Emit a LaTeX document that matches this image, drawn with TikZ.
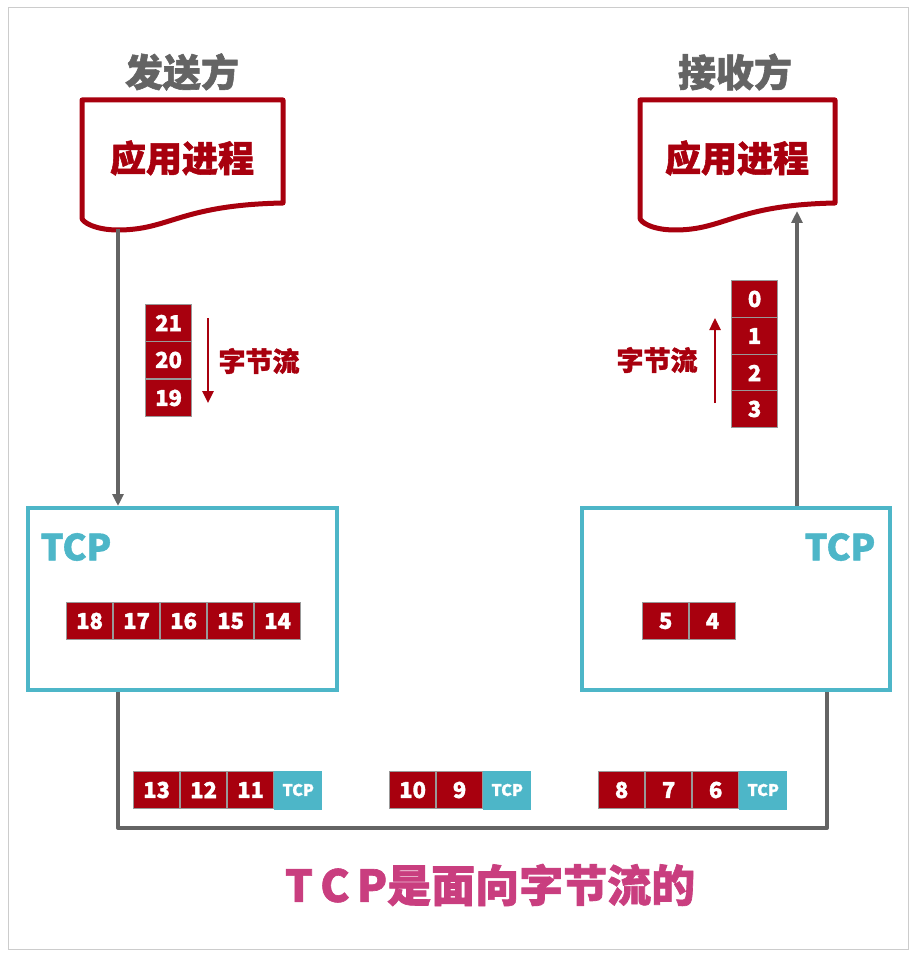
\documentclass[tikz,border=0pt]{standalone}
\usepackage{fontspec}
\setmainfont{Noto Sans CJK SC}[BoldFeatures={FakeBold=1.5}]
\usetikzlibrary{arrows.meta}
\definecolor{dred}{HTML}{A8000E}
\definecolor{cyanc}{HTML}{4DB6C8}
\definecolor{lgrey}{HTML}{646464}
\definecolor{pinkc}{HTML}{C93E7F}
\tikzset{
 cell/.style={draw=gray!80,line width=1.2pt,fill=dred,text=white,minimum width=46pt,minimum height=37pt,inner sep=0pt,font=\bfseries\fontsize{22}{22}\selectfont,anchor=west},
 hcell/.style={fill=cyanc,text=white,minimum width=48pt,minimum height=39pt,inner sep=0pt,font=\bfseries\fontsize{16}{16}\selectfont,anchor=west},
 tcpbox/.style={draw=cyanc,line width=3.5pt},
 doc/.style={draw=dred,line width=5pt,line join=round,fill=white},
 wire/.style={draw=lgrey,line width=4pt},
 arr/.style={-{Triangle[length=12pt,width=11pt]}},
 ttl/.style={text=lgrey,font=\bfseries\fontsize{38}{38}\selectfont},
 flowlbl/.style={text=dred,font=\bfseries\fontsize{27}{27}\selectfont},
 doctxt/.style={text=dred,font=\bfseries\fontsize{36}{36}\selectfont},
 tcplbl/.style={text=cyanc,font=\bfseries\fontsize{36}{36}\selectfont},
}
\begin{document}
\begin{tikzpicture}[x=1pt,y=-1pt]
\useasboundingbox (0,0) rectangle (916,957);
\draw[gray!40,line width=1pt] (8,8) rectangle (908,949);
% titles
\node[ttl] (t1) at (182,72) {发送方};
\node[ttl] (t2) at (735,72) {接收方};
% documents
\draw[doc] (82,100) -- (283,100) -- (283,203) .. controls (180,205) and (170,230) .. (118,230) .. controls (95,230) and (82,222) .. (82,218) -- cycle;
\node[doctxt] (d1) at (182,158) {应用进程};
\draw[doc] (640,100) -- (835,100) -- (835,203) .. controls (735,205) and (725,230) .. (675,230) .. controls (652,230) and (640,222) .. (640,218) -- cycle;
\node[doctxt] (d2) at (737,158) {应用进程};
% TCP boxes
\draw[tcpbox] (28,508) rectangle (337,690);
\draw[tcpbox] (582,508) rectangle (890,690);
\node[tcplbl] (tl) at (76,547) {TCP};
\node[tcplbl] (tr) at (840,547) {TCP};
\coordinate (lt) at (118,506);
\coordinate (ldoc) at (118,229);
\coordinate (rt) at (797,506);
\coordinate (rdoc) at (797,211);
\draw[wire,arr] (ldoc) -- (lt);
\draw[wire,arr] (rt) -- (rdoc);
% bottom wire
\coordinate (lb) at (118,692);
\coordinate (rb) at (827,692);
\draw[wire,line join=round] (lb) -- (118,828) -- (827,828) -- (rb);
% left stack
\node[cell] (c21) at (145,323) {21};
\node[cell] (c20) at (145,360) {20};
\node[cell] (c19) at (145,398) {19};
\coordinate (la1) at (208,318);
\coordinate (la2) at (208,403);
\draw[dred,line width=2.5pt,arr] (la1) -- (la2);
\node[flowlbl] (f1) at (259,361) {字节流};
% right stack
\node[cell] (c0) at (731,299) {0};
\node[cell] (c1) at (731,336) {1};
\node[cell] (c2) at (731,373) {2};
\node[cell] (c3) at (731,409) {3};
\coordinate (ra1) at (715,403);
\coordinate (ra2) at (715,318);
\draw[dred,line width=2.5pt,arr] (ra1) -- (ra2);
\node[flowlbl] (f2) at (657,360) {字节流};
% left TCP buffer
\node[cell] (c18) at (66,621) {18};
\node[cell] (c17) at (113,621) {17};
\node[cell] (c16) at (160,621) {16};
\node[cell] (c15) at (207,621) {15};
\node[cell] (c14) at (254,621) {14};
% right TCP buffer
\node[cell] (c5) at (642,621) {5};
\node[cell] (c4) at (689,621) {4};
% segments
\node[cell] (c13) at (133,790) {13};
\node[cell] (c12) at (180,790) {12};
\node[cell] (c11) at (227,790) {11};
\node[hcell] (h1) at (274,790) {TCP};
\node[cell] (c10) at (389,790) {10};
\node[cell] (c9) at (436,790) {9};
\node[hcell] (h2) at (483,790) {TCP};
\node[cell] (c8) at (598,790) {8};
\node[cell] (c7) at (645,790) {7};
\node[cell] (c6) at (692,790) {6};
\node[hcell] (h3) at (739,790) {TCP};
% caption
\node[text=pinkc,font=\bfseries\fontsize{44}{44}\selectfont] (cap) at (490,885) {T\,C\,P是面向字节流的};
\end{tikzpicture}
\end{document}
